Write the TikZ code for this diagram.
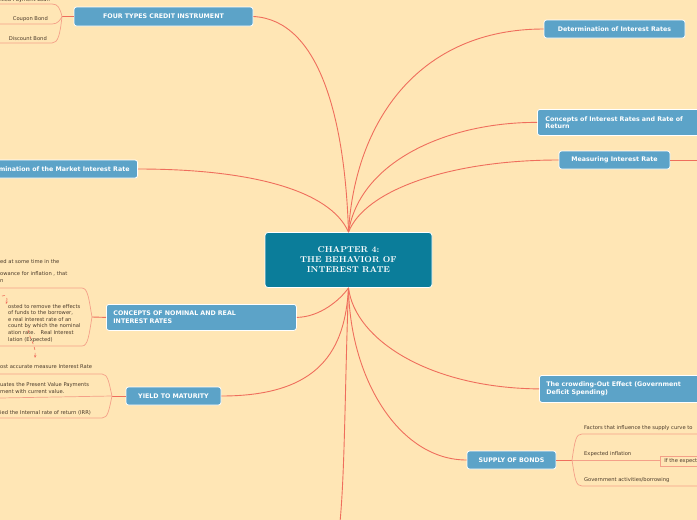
\documentclass[tikz,border=0pt]{standalone}
\usepackage{fontspec}
\setsansfont{DejaVu Sans}
\usetikzlibrary{arrows.meta}
\definecolor{bg}{HTML}{FFE6B5}
\definecolor{blu}{HTML}{5CA3C8}
\definecolor{cen}{HTML}{0B7D9A}
\definecolor{lnk}{HTML}{EF6E5C}
\definecolor{sub}{HTML}{F4A088}
\definecolor{txt}{HTML}{4A3A2A}
\tikzset{
  topic/.style={fill=blu,draw=white,line width=0.8pt,rounded corners=2.5pt,text=white,font=\sffamily\bfseries\fontsize{6.3}{7.5}\selectfont,inner sep=0pt,align=left},
  link/.style={draw=lnk,line width=0.9pt},
  sublink/.style={draw=sub,line width=0.7pt},
  leaf/.style={text=txt,font=\sffamily\fontsize{5.2}{6.6}\selectfont,inner sep=0pt,align=left}
}
\begin{document}
\begin{tikzpicture}[x=1pt,y=-1pt]
\fill[bg] (0,0) rectangle (697,520);
\useasboundingbox (0,0) rectangle (697,520);
\begin{scope}
\clip (0,0) rectangle (697,520);
% central
\node[fill=cen,draw=white,line width=0.8pt,rounded corners=3pt,minimum width=167pt,minimum height=55pt,text=white,font=\rmfamily\bfseries\fontsize{8.5}{10}\selectfont,align=center] (c) at (348.5,260) {CHAPTER 4:\\THE BEHAVIOR OF\\INTEREST RATE};
% topics
\node[topic,minimum width=179pt,minimum height=19pt,align=center] (four) at (163.5,16.5) {FOUR TYPES CREDIT INSTRUMENT};
\node[topic,minimum width=141pt,minimum height=18pt,align=center] (det) at (614.5,29) {Determination of Interest Rates};
\node[topic,anchor=north west,minimum width=170pt,minimum height=26pt,text width=160pt,inner xsep=8pt] (conc) at (537,109) {Concepts of Interest Rates and Rate of\\Return};
\node[topic,minimum width=111pt,minimum height=18pt,align=center] (meas) at (614.5,160) {Measuring Interest Rate};
\node[topic,anchor=east,minimum height=18pt,inner xsep=8pt] (mkt) at (138,169) {Determination of the Market Interest Rate};
\node[topic,anchor=north west,minimum width=190pt,minimum height=26pt,text width=176pt,inner xsep=7pt] (nom) at (106,304) {CONCEPTS OF NOMINAL AND REAL\\INTEREST RATES};
\node[topic,minimum width=95pt,minimum height=18pt,align=center] (ytm) at (173.5,396) {YIELD TO MATURITY};
\node[topic,anchor=north west,minimum width=170pt,minimum height=27pt,text width=160pt,inner xsep=7pt] (crowd) at (539,375) {The crowding-Out Effect (Government\\Deficit Spending)};
\node[topic,minimum width=89pt,minimum height=18pt,align=center] (sup) at (511.5,460) {SUPPLY OF BONDS};
\coordinate (bot) at (340,522);
% main links
\draw[link] (c.north) .. controls (345,120) and (320,20) .. (four.east);
\draw[link] (c.north) .. controls (355,120) and (420,29) .. (det.west);
\draw[link] (c.north) .. controls (360,160) and (450,122) .. (conc.west);
\draw[link] (c.north) .. controls (365,190) and (450,160) .. (meas.west);
\draw[link] (c.north) .. controls (330,190) and (250,169) .. (mkt.east);
\draw[link] (c.south) .. controls (340,300) and (320,317) .. (nom.east);
\draw[link] (c.south) .. controls (345,350) and (320,396) .. (ytm.east);
\draw[link] (c.south) .. controls (355,340) and (430,388) .. (crowd.west);
\draw[link] (c.south) .. controls (350,380) and (400,460) .. (sup.west);
\draw[link] (c.south) .. controls (345,380) and (345,470) .. (bot);
\draw[link] (meas.east) -- (697,160);
% four types leaves
\node[leaf,anchor=south east] (l1) at (50,3) {Fixed Payment Loan};
\node[leaf,anchor=south east] (l2) at (48,22) {Coupon Bond};
\node[leaf,anchor=south east] (l3) at (47,41) {Discount Bond};
\draw[link] (four.west) -- (62,16.5);
\draw[sublink] (62,16.5) .. controls (60,8) and (58,4) .. (52,4) -- (0,4);
\draw[sublink] (62,16.5) .. controls (60,20) and (58,24) .. (52,24) -- (0,24);
\draw[sublink] (62,16.5) .. controls (60,35) and (58,43) .. (52,43) -- (0,43);
% nominal leaves
\node[leaf,anchor=west] at (0,262) {ed at some time in the};
\node[leaf,anchor=west] at (0,274) {owance for inflation , that};
\node[leaf,anchor=west] at (0,281) {n};
\node[leaf,anchor=north west] at (8,304) {osted to remove the effects\\of funds to the borrower,\\e real interest rate of an\\count by which the nominal\\ation rate. \ \ Real Interest\\lation (Expected)};
\draw[link] (nom.west) -- (92,317);
\draw[sublink] (92,317) .. controls (89,300) and (88,288) .. (82,288) -- (0,288);
\draw[sublink] (92,317) .. controls (89,335) and (88,346) .. (82,346) -- (0,346);
\draw[lnk,dashed,line width=0.6pt,-{Stealth[length=3pt]}] (28,330) .. controls (30,340) and (36,345) .. (35,358);
\draw[lnk,dashed,line width=0.6pt,-{Stealth[length=3pt]}] (2,296) .. controls (6,294) and (8,298) .. (6,304);
% ytm leaves
\node[leaf,anchor=west] at (0,367) {ost accurate measure Interest Rate};
\node[leaf,anchor=west] at (0,388) {uates the Present Value Payments\\ment with current value.};
\node[leaf,anchor=west] at (0,413) {ied the Internal rate of return (IRR)};
\draw[link] (ytm.west) -- (112,396);
\draw[sublink] (112,396) .. controls (109,383) and (108,374) .. (102,374) -- (0,374);
\draw[sublink] (112,396) -- (0,398);
\draw[sublink] (112,396) .. controls (109,410) and (108,418) .. (102,418) -- (0,418);
% supply leaves
\node[leaf,anchor=south west] at (584,431) {Factors that influence the supply curve to};
\node[leaf,anchor=south west] at (584,457) {Expected inflation};
\node[leaf,anchor=south west] at (584,483) {Government activities/borrowing};
\draw[link] (sup.east) -- (572,460);
\draw[sublink] (572,460) .. controls (575,440) and (576,434) .. (582,434) -- (697,434);
\draw[sublink] (572,460) -- (660,460);
\node[leaf,anchor=west,fill=bg,draw=sub,line width=0.8pt,inner xsep=4pt,minimum height=10pt] (ifx) at (660,461) {If the expected};
\draw[sublink] (572,460) .. controls (575,480) and (576,486) .. (582,486) -- (697,486);
\end{scope}
\end{tikzpicture}
\end{document}
